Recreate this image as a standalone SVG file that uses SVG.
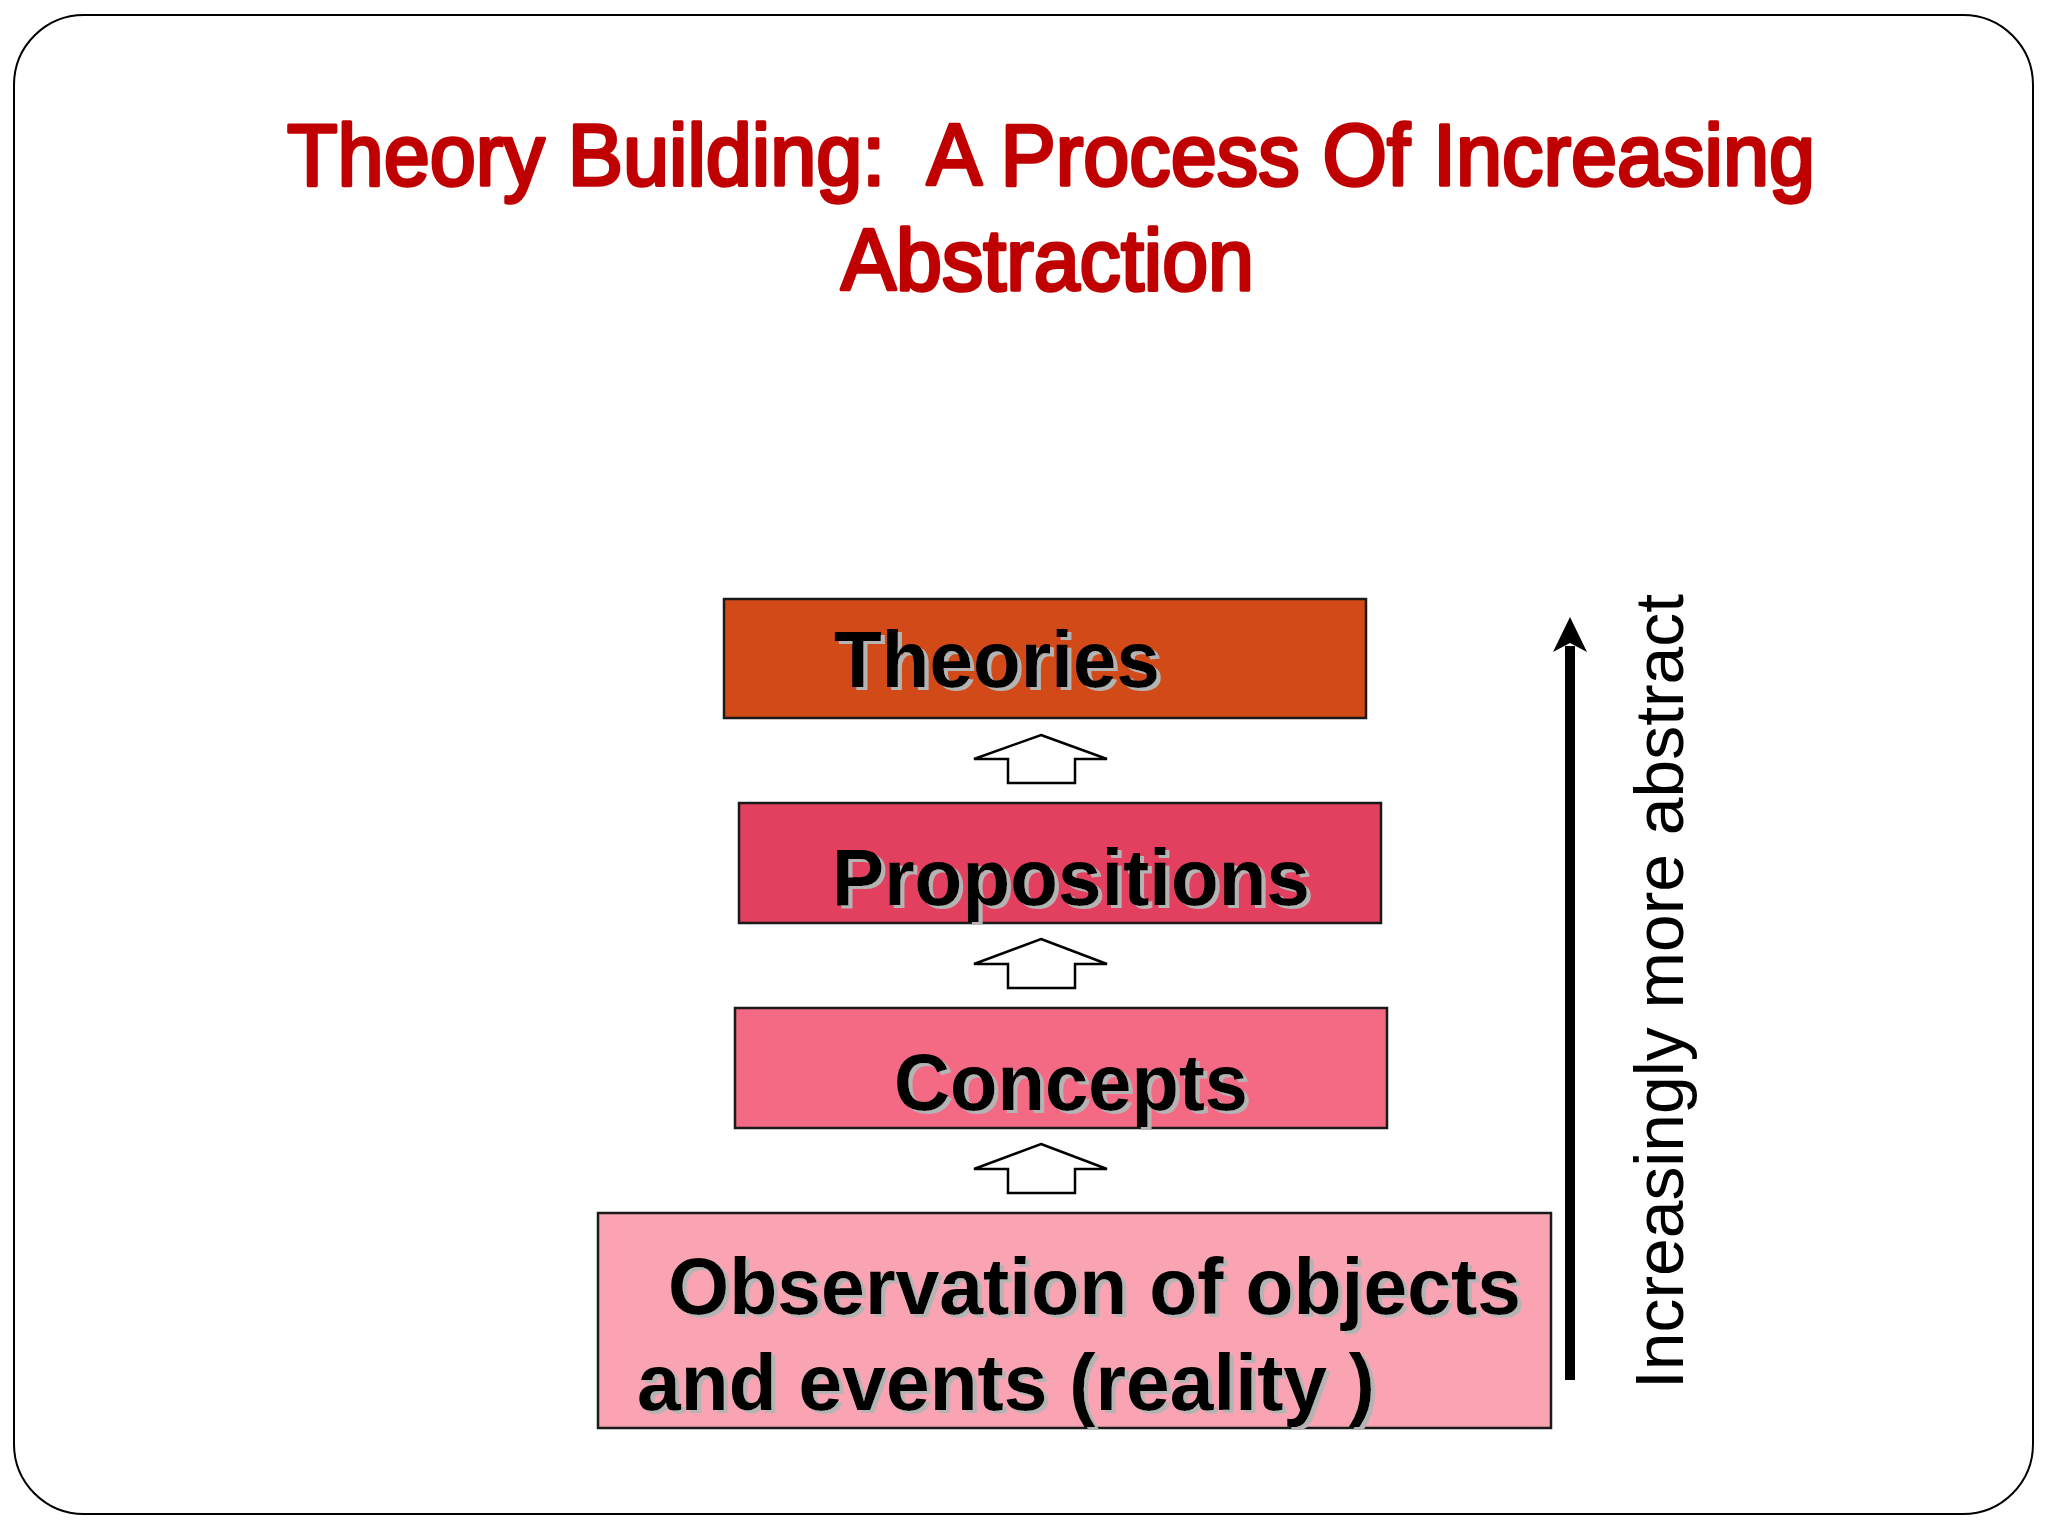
<svg xmlns="http://www.w3.org/2000/svg" width="2048" height="1536" viewBox="0 0 2048 1536">
  <style>
    .title { font-family: "Liberation Sans", Arial, sans-serif; font-size: 87px; fill: #C00000; stroke: #C00000; stroke-width: 3.5; stroke-linejoin: round; }
    .box { stroke: #1a1a1a; stroke-width: 2.5; }
    .lbl { font-family: "Liberation Sans", Arial, sans-serif; font-size: 80px; font-weight: bold; fill: #000; filter: url(#sh); }
    .blk { fill: #ffffff; stroke: #000; stroke-width: 2.5; stroke-linejoin: miter; }
    .side { font-family: "Liberation Sans", Arial, sans-serif; font-size: 68px; fill: #000; }
  </style>
  <defs>
    <filter id="sh" x="-5%" y="-20%" width="110%" height="140%">
      <feDropShadow dx="4" dy="3" stdDeviation="0" flood-color="#b4b4b4" flood-opacity="1"/>
    </filter>
  </defs>
  <rect x="0" y="0" width="2048" height="1536" fill="#ffffff"/>
  <rect x="14" y="15" width="2019" height="1499" rx="70" ry="70" fill="#ffffff" stroke="#000" stroke-width="2"/>

  <g id="title">
    <text class="title" x="287" y="185" textLength="1528" lengthAdjust="spacingAndGlyphs" xml:space="preserve">Theory Building:  A Process Of Increasing</text>
    <text class="title" x="841" y="290" textLength="413" lengthAdjust="spacingAndGlyphs">Abstraction</text>
  </g>

  <g id="theories">
    <rect class="box" x="724" y="599" width="642" height="119" fill="#D24A18"/>
    <text class="lbl" x="834" y="687" textLength="326" lengthAdjust="spacingAndGlyphs">Theories</text>
  </g>

  <g id="propositions">
    <rect class="box" x="739" y="803" width="642" height="120" fill="#E3405F"/>
    <text class="lbl" x="832" y="905" textLength="478" lengthAdjust="spacingAndGlyphs">Propositions</text>
  </g>

  <g id="concepts">
    <rect class="box" x="735" y="1008" width="652" height="120" fill="#F46984"/>
    <text class="lbl" x="894" y="1110" textLength="354" lengthAdjust="spacingAndGlyphs">Concepts</text>
  </g>

  <g id="observation">
    <rect class="box" x="598" y="1213" width="953" height="215" fill="#F9A3B3"/>
    <text class="lbl" x="668" y="1314" textLength="853" lengthAdjust="spacingAndGlyphs">Observation of objects</text>
    <text class="lbl" x="637" y="1410" textLength="738" lengthAdjust="spacingAndGlyphs">and events (reality )</text>
  </g>

  <g id="connectors">
    <polygon class="blk" points="1041,735 1107,759 1075,759 1075,783 1008,783 1008,759 974,759"/>
    <polygon class="blk" points="1041,939 1107,964 1075,964 1075,988 1008,988 1008,964 974,964"/>
    <polygon class="blk" points="1041,1144 1107,1169 1075,1169 1075,1193 1008,1193 1008,1169 974,1169"/>
    <rect x="1565" y="646" width="10" height="734" fill="#000"/>
    <path d="M1570,617 L1587,652 L1570,643 L1553,652 Z" fill="#000"/>
  </g>

  <g id="axis-label">
    <text class="side" transform="translate(1683,1389) rotate(-90)" textLength="795" lengthAdjust="spacingAndGlyphs">Increasingly more abstract</text>
  </g>
</svg>
